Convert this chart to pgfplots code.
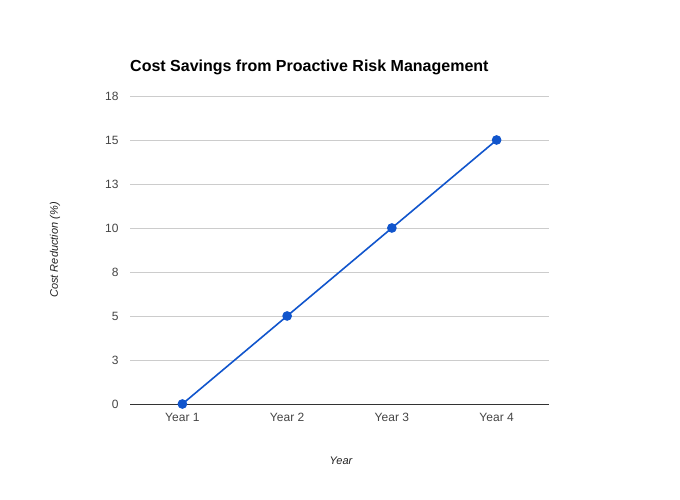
\documentclass[border=0pt]{standalone}
\usepackage{pgfplots}
\pgfplotsset{compat=1.18}
\usepackage{fontspec}
\setmainfont{Liberation Sans}
\definecolor{linec}{RGB}{17,85,204}
\definecolor{gridc}{RGB}{204,204,204}
\definecolor{tickc}{RGB}{68,68,68}
\definecolor{titc}{RGB}{34,34,34}
\begin{document}
\begin{tikzpicture}
\path[use as bounding box] (0pt,0pt) rectangle (680pt,500pt);
\begin{axis}[
  at={(130pt,96pt)}, anchor=south west,
  scale only axis, width=419pt, height=308pt,
  xmin=-0.5, xmax=3.5, ymin=0, ymax=17.5,
  xtick={0,1,2,3}, xticklabels={Year 1,Year 2,Year 3,Year 4},
  ytick={0,2.5,5,7.5,10,12.5,15,17.5},
  yticklabels={0,3,5,8,10,13,15,18},
  axis line style={draw=none},
  major tick length=0pt,
  ymajorgrids, grid style={gridc, line width=0.8pt},
  tick label style={font=\fontsize{12}{14}\selectfont, text=tickc},
  yticklabel style={xshift=-8pt},
  xticklabel style={yshift=-6pt},
  clip=false,
]
\addplot[linec, line width=1.6pt, mark=*, mark size=4pt, mark options={fill=linec, draw=linec}]
  coordinates {(0,0) (1,5) (2,10) (3,15)};
\draw[color={rgb,255:red,51;green,51;blue,51}, line width=0.9pt] (axis cs:-0.5,0) -- (axis cs:3.5,0);
\end{axis}
\node[anchor=base west, font=\fontsize{16}{19}\selectfont\bfseries, text=black, inner sep=0] at (130pt,428pt) {Cost Savings from Proactive Risk Management};
\node[font=\fontsize{11}{13}\selectfont\itshape, text=titc, rotate=90] at (55pt,250pt) {Cost Reduction (\%)};
\node[font=\fontsize{11}{13}\selectfont\itshape, text=titc] at (341pt,39pt) {Year};
\end{tikzpicture}
\end{document}
